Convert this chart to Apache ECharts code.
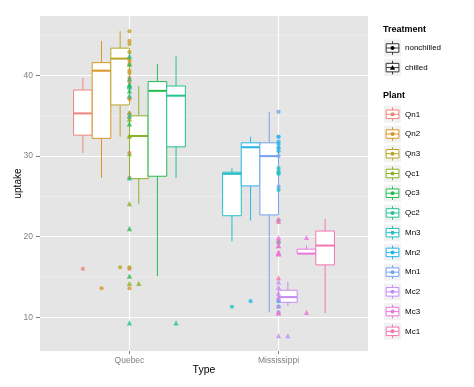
<!DOCTYPE html>
<html><head><meta charset="utf-8">
<script src="https://cdn.jsdelivr.net/npm/echarts@6/dist/echarts.min.js"></script>
<style>html,body{margin:0;padding:0;background:#fff}#c{width:474px;height:387px}</style>
</head><body><div id="c"></div>
<script>
// ---- data ----
const types = ['Quebec', 'Mississippi'];
const treatments = ['nonchilled', 'chilled'];
const plants = ['Qn1','Qn2','Qn3','Qc1','Qc3','Qc2','Mn3','Mn2','Mn1','Mc2','Mc3','Mc1'];
const plantType = [0,0,0,0,0,0,1,1,1,1,1,1];
const plantTreatment = [0,0,0,1,1,1,0,0,0,1,1,1];
const hueColors = ['#F8766D','#DE8C00','#B79F00','#7CAE00','#00BA38','#00C08B','#00BFC4','#00B4F0','#619CFF','#C77CFF','#F564E3','#FF64B0'];
// uptake at CO2 conc 95,175,250,350,500,675,1000
const Qn1 = [16.0, 30.4, 34.8, 37.2, 35.3, 39.2, 39.7];
const Qn2 = [13.6, 27.3, 37.1, 41.8, 40.6, 41.4, 44.3];
const Qn3 = [16.2, 32.4, 40.3, 42.1, 42.9, 43.9, 45.5];
const Qc1 = [14.2, 24.1, 30.3, 34.6, 32.5, 35.4, 38.7];
const Qc2 = [9.3, 27.3, 35.0, 38.8, 38.6, 37.5, 42.4];
const Qc3 = [15.1, 21.0, 38.1, 34.0, 38.9, 39.6, 41.4];
const Mn1 = [10.6, 19.2, 26.2, 30.0, 30.9, 32.4, 35.5];
const Mn2 = [12.0, 22.0, 30.6, 31.8, 32.4, 31.1, 31.5];
const Mn3 = [11.3, 19.4, 25.8, 27.9, 28.5, 28.1, 27.8];
const Mc1 = [10.5, 14.9, 18.1, 18.9, 19.5, 22.2, 21.9];
const Mc2 = [7.7, 11.4, 12.3, 13.0, 12.5, 13.7, 14.4];
const Mc3 = [10.6, 18.0, 17.9, 17.9, 17.9, 18.9, 19.9];
const rowOrder = ['Qn1','Qn2','Qn3','Qc1','Qc2','Qc3','Mn1','Mn2','Mn3','Mc1','Mc2','Mc3'];
const yTicks = [10, 20, 30, 40];
const yMinor = [15, 25, 35, 45];
const yRange = [5.81, 47.39];
const xRange = [0.4, 2.6];

// ---- build ----
function mute(hex) {
  const n = parseInt(hex.slice(1), 16), g = 192, f = 0.2;
  const r = Math.round(((n >> 16) & 255) * (1 - f) + g * f), gg = Math.round(((n >> 8) & 255) * (1 - f) + g * f), b = Math.round((n & 255) * (1 - f) + g * f);
  return 'rgb(' + r + ',' + gg + ',' + b + ')';
}
const plantColors = hueColors.map(mute);
const uptake = {Qn1,Qn2,Qn3,Qc1,Qc2,Qc3,Mn1,Mn2,Mn3,Mc1,Mc2,Mc3};
const boxW = 0.125;
const shapes = ['circle', 'triangle'];
const shapeSize = [4.2, 5.2];
function quant(s, p) { const h = (s.length - 1) * p, lo = Math.floor(h); const hi = Math.min(lo + 1, s.length - 1); return s[lo] + (h - lo) * (s[hi] - s[lo]); }

const boxData = [], outlierData = [];
plants.forEach((p, i) => {
  const s = uptake[p].slice().sort((a, b) => a - b);
  const q1 = quant(s, 0.25), med = quant(s, 0.5), q3 = quant(s, 0.75), iqr = q3 - q1;
  const inside = s.filter(v => v >= q1 - 1.5 * iqr && v <= q3 + 1.5 * iqr);
  const slot = plants.filter((_, j) => j < i && plantType[j] === plantType[i]).length;
  const x = plantType[i] + 1 + (slot - 2.5) * boxW;
  boxData.push([x, inside[0], q1, med, q3, inside[inside.length - 1], i]);
  s.filter(v => v < q1 - 1.5 * iqr || v > q3 + 1.5 * iqr).forEach(v => {
    outlierData.push({ value: [x, v], symbol: shapes[plantTreatment[i]], symbolSize: shapeSize[plantTreatment[i]], itemStyle: { color: plantColors[i] } });
  });
});
const pointData = [];
rowOrder.forEach(p => {
  const i = plants.indexOf(p);
  uptake[p].forEach(v => pointData.push({ value: [plantType[i] + 1, v], symbol: shapes[plantTreatment[i]], symbolSize: shapeSize[plantTreatment[i]], itemStyle: { color: plantColors[i] } }));
});

const FONT = '"Liberation Sans", Arial, sans-serif';
// ---- legend graphics ----
const graphics = [];
const LX = 384, KS = 17, LBX = 405;
function cx(x0) { return x0 + KS / 2; }
function keyGlyph(cy, color, pointColor, shape) {
  const x0 = LX, y0 = cy - KS / 2;
  graphics.push({ type: 'rect', shape: { x: x0, y: y0, width: KS, height: KS }, style: { fill: '#F2F2F2' }, silent: true });
  graphics.push({ type: 'line', shape: { x1: x0 + KS / 2, y1: y0 + 0.1 * KS, x2: x0 + KS / 2, y2: y0 + 0.9 * KS }, style: { stroke: color, lineWidth: 1 }, silent: true });
  graphics.push({ type: 'rect', shape: { x: x0 + 0.125 * KS, y: y0 + 0.25 * KS, width: 0.75 * KS, height: 0.5 * KS }, style: { fill: '#fff', stroke: color, lineWidth: 1 }, silent: true });
  graphics.push({ type: 'line', shape: { x1: x0 + 0.125 * KS, y1: cy, x2: x0 + 0.875 * KS, y2: cy }, style: { stroke: color, lineWidth: 1 }, silent: true });
  if (shape === 'triangle') {
    const r = 2.6;
    graphics.push({ type: 'polygon', shape: { points: [[cx(x0), cy - r], [cx(x0) + r, cy + r * 0.8], [cx(x0) - r, cy + r * 0.8]] }, style: { fill: pointColor }, silent: true });
  } else {
    graphics.push({ type: 'circle', shape: { cx: cx(x0), cy: cy, r: 2 }, style: { fill: pointColor }, silent: true });
  }
}
function label(x, y, text, bold, size) {
  graphics.push({ type: 'text', x: x, y: y, style: { text: text, fill: '#000', fontSize: size, fontWeight: bold ? 'bold' : 'normal', fontFamily: FONT, verticalAlign: 'middle', align: 'left' }, silent: true });
}
label(383, 30, 'Treatment', true, 9);
treatments.forEach((t, k) => { const cy = 48 + k * 19.6; keyGlyph(cy, '#333', '#000', shapes[k]); label(LBX, cy, t, false, 8); });
label(383, 96, 'Plant', true, 9);
plants.forEach((p, i) => { const cy = 114.3 + i * 19.73; keyGlyph(cy, plantColors[i], plantColors[i], 'circle'); label(LBX, cy, p, false, 8); });

const chart = echarts.init(document.getElementById('c'), null, { renderer: 'canvas' });
chart.setOption({
  animation: false,
  backgroundColor: '#fff',
  textStyle: { fontFamily: FONT },
  grid: { left: 40, right: 106, top: 16, bottom: 36, show: true, backgroundColor: '#E5E5E5', borderWidth: 0 },
  xAxis: {
    type: 'value', min: xRange[0], max: xRange[1],
    name: 'Type', nameLocation: 'middle', nameGap: 14, nameMoveOverlap: false, nameTextStyle: { color: '#000', fontSize: 10.5, fontFamily: FONT },
    axisLine: { show: false },
    axisTick: { show: true, customValues: [1, 2], length: 3, lineStyle: { color: '#7F7F7F' } },
    axisLabel: { customValues: [1, 2], formatter: v => types[Math.round(v) - 1], color: '#7F7F7F', fontSize: 8.5, margin: 5, fontFamily: FONT },
    splitLine: { show: true, lineStyle: { color: '#fff', width: 1.1 } }
  },
  yAxis: {
    type: 'value', min: yRange[0], max: yRange[1],
    name: 'uptake', nameLocation: 'middle', nameRotate: 90, nameGap: 17, nameMoveOverlap: false, nameTextStyle: { color: '#000', fontSize: 10, fontFamily: FONT },
    axisLine: { show: false },
    axisTick: { show: true, customValues: yTicks, length: 4, lineStyle: { color: '#7F7F7F' } },
    axisLabel: { customValues: yTicks, color: '#7F7F7F', fontSize: 8.5, margin: 7, fontFamily: FONT },
    splitLine: { show: true, lineStyle: { color: '#fff', width: 1.1 } }
  },
  graphic: graphics,
  series: [
    {
      type: 'custom', z: 1, silent: true, data: yMinor.map(v => [xRange[0], v]),
      encode: { x: 0, y: 1 },
      renderItem(params, api) {
        const a = api.coord([xRange[0], api.value(1)]), b = api.coord([xRange[1], api.value(1)]);
        return { type: 'line', shape: { x1: a[0], y1: a[1], x2: b[0], y2: b[1] }, style: { stroke: '#F2F2F2', lineWidth: 0.6 } };
      }
    },
    {
      type: 'custom', z: 2, silent: true, data: boxData,
      encode: { x: 0, y: [1, 2, 3, 4, 5] },
      renderItem(params, api) {
        const x = api.value(0), lo = api.value(1), q1 = api.value(2), med = api.value(3), q3 = api.value(4), hi = api.value(5);
        const c = plantColors[api.value(6)];
        const hw = boxW / 2;
        const tl = api.coord([x - hw, q3]), br = api.coord([x + hw, q1]);
        const top = api.coord([x, hi]), bot = api.coord([x, lo]);
        const mL = api.coord([x - hw, med]), mR = api.coord([x + hw, med]);
        return { type: 'group', children: [
          { type: 'line', shape: { x1: top[0], y1: top[1], x2: top[0], y2: tl[1] }, style: { stroke: c, lineWidth: 1 } },
          { type: 'line', shape: { x1: bot[0], y1: br[1], x2: bot[0], y2: bot[1] }, style: { stroke: c, lineWidth: 1 } },
          { type: 'rect', shape: { x: tl[0], y: tl[1], width: br[0] - tl[0], height: br[1] - tl[1] }, style: { fill: '#fff', stroke: c, lineWidth: 1 } },
          { type: 'line', shape: { x1: mL[0], y1: mL[1], x2: mR[0], y2: mR[1] }, style: { stroke: c, lineWidth: 2 } }
        ] };
      }
    },
    { type: 'scatter', z: 3, silent: true, data: outlierData },
    { type: 'scatter', z: 4, silent: true, data: pointData }
  ]
});
</script></body></html>
